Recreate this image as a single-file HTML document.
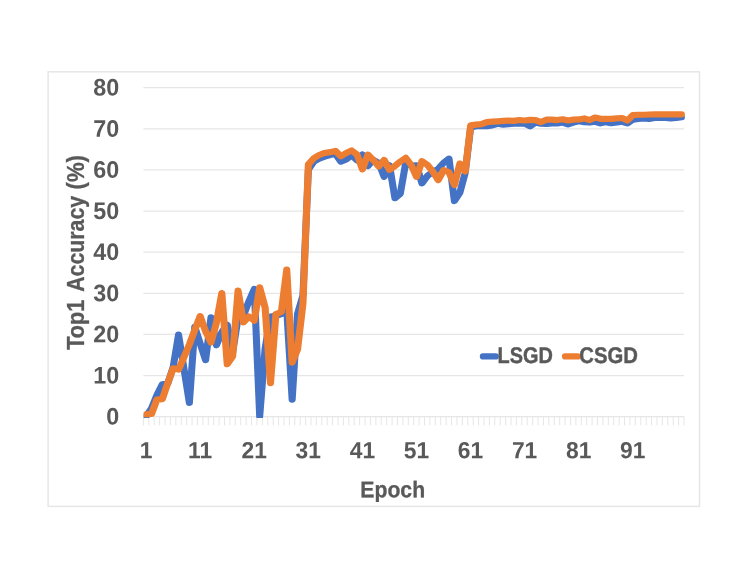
<!DOCTYPE html><html><head><meta charset="utf-8"><title>Top1 Accuracy</title><style>html,body{margin:0;padding:0;background:#fff}svg{display:block}text{font-family:"Liberation Sans",sans-serif;font-weight:bold;fill:#595959}</style></head><body>
<svg width="747" height="578" viewBox="0 0 747 578">
<rect width="747" height="578" fill="#fff"/>
<rect x="48.1" y="71.8" width="651.4" height="434.6" fill="#fff" stroke="#e6e6e6" stroke-width="1.5"/>
<line x1="143.4" y1="416.70" x2="684.0" y2="416.70" stroke="#e6e6e6" stroke-width="1.25"/>
<line x1="143.4" y1="375.57" x2="684.0" y2="375.57" stroke="#e6e6e6" stroke-width="1.25"/>
<line x1="143.4" y1="334.45" x2="684.0" y2="334.45" stroke="#e6e6e6" stroke-width="1.25"/>
<line x1="143.4" y1="293.32" x2="684.0" y2="293.32" stroke="#e6e6e6" stroke-width="1.25"/>
<line x1="143.4" y1="252.20" x2="684.0" y2="252.20" stroke="#e6e6e6" stroke-width="1.25"/>
<line x1="143.4" y1="211.07" x2="684.0" y2="211.07" stroke="#e6e6e6" stroke-width="1.25"/>
<line x1="143.4" y1="169.95" x2="684.0" y2="169.95" stroke="#e6e6e6" stroke-width="1.25"/>
<line x1="143.4" y1="128.82" x2="684.0" y2="128.82" stroke="#e6e6e6" stroke-width="1.25"/>
<line x1="143.4" y1="87.70" x2="684.0" y2="87.70" stroke="#e6e6e6" stroke-width="1.25"/>
<path d="M143.40 416.70V425.30M148.81 416.70V425.30M154.21 416.70V425.30M159.62 416.70V425.30M165.02 416.70V425.30M170.43 416.70V425.30M175.84 416.70V425.30M181.24 416.70V425.30M186.65 416.70V425.30M192.05 416.70V425.30M197.46 416.70V425.30M202.87 416.70V425.30M208.27 416.70V425.30M213.68 416.70V425.30M219.08 416.70V425.30M224.49 416.70V425.30M229.90 416.70V425.30M235.30 416.70V425.30M240.71 416.70V425.30M246.11 416.70V425.30M251.52 416.70V425.30M256.93 416.70V425.30M262.33 416.70V425.30M267.74 416.70V425.30M273.14 416.70V425.30M278.55 416.70V425.30M283.96 416.70V425.30M289.36 416.70V425.30M294.77 416.70V425.30M300.17 416.70V425.30M305.58 416.70V425.30M310.99 416.70V425.30M316.39 416.70V425.30M321.80 416.70V425.30M327.20 416.70V425.30M332.61 416.70V425.30M338.02 416.70V425.30M343.42 416.70V425.30M348.83 416.70V425.30M354.23 416.70V425.30M359.64 416.70V425.30M365.05 416.70V425.30M370.45 416.70V425.30M375.86 416.70V425.30M381.26 416.70V425.30M386.67 416.70V425.30M392.08 416.70V425.30M397.48 416.70V425.30M402.89 416.70V425.30M408.29 416.70V425.30M413.70 416.70V425.30M419.11 416.70V425.30M424.51 416.70V425.30M429.92 416.70V425.30M435.32 416.70V425.30M440.73 416.70V425.30M446.14 416.70V425.30M451.54 416.70V425.30M456.95 416.70V425.30M462.35 416.70V425.30M467.76 416.70V425.30M473.17 416.70V425.30M478.57 416.70V425.30M483.98 416.70V425.30M489.38 416.70V425.30M494.79 416.70V425.30M500.20 416.70V425.30M505.60 416.70V425.30M511.01 416.70V425.30M516.41 416.70V425.30M521.82 416.70V425.30M527.23 416.70V425.30M532.63 416.70V425.30M538.04 416.70V425.30M543.44 416.70V425.30M548.85 416.70V425.30M554.26 416.70V425.30M559.66 416.70V425.30M565.07 416.70V425.30M570.47 416.70V425.30M575.88 416.70V425.30M581.29 416.70V425.30M586.69 416.70V425.30M592.10 416.70V425.30M597.50 416.70V425.30M602.91 416.70V425.30M608.32 416.70V425.30M613.72 416.70V425.30M619.13 416.70V425.30M624.53 416.70V425.30M629.94 416.70V425.30M635.35 416.70V425.30M640.75 416.70V425.30M646.16 416.70V425.30M651.56 416.70V425.30M656.97 416.70V425.30M662.38 416.70V425.30M667.78 416.70V425.30M673.19 416.70V425.30M678.59 416.70V425.30M684.00 416.70V425.30" stroke="#e6e6e6" stroke-width="1" fill="none"/>
<text transform="translate(119.1 424.60) rotate(0.03) scale(0.975 1)" font-size="23.9" text-anchor="end">0</text>
<text transform="translate(119.1 383.47) rotate(0.03) scale(0.975 1)" font-size="23.9" text-anchor="end">10</text>
<text transform="translate(119.1 342.35) rotate(0.03) scale(0.975 1)" font-size="23.9" text-anchor="end">20</text>
<text transform="translate(119.1 301.22) rotate(0.03) scale(0.975 1)" font-size="23.9" text-anchor="end">30</text>
<text transform="translate(119.1 260.10) rotate(0.03) scale(0.975 1)" font-size="23.9" text-anchor="end">40</text>
<text transform="translate(119.1 218.97) rotate(0.03) scale(0.975 1)" font-size="23.9" text-anchor="end">50</text>
<text transform="translate(119.1 177.85) rotate(0.03) scale(0.975 1)" font-size="23.9" text-anchor="end">60</text>
<text transform="translate(119.1 136.72) rotate(0.03) scale(0.975 1)" font-size="23.9" text-anchor="end">70</text>
<text transform="translate(119.1 95.60) rotate(0.03) scale(0.975 1)" font-size="23.9" text-anchor="end">80</text>
<text transform="translate(146.0 458.2) rotate(0.03) scale(0.975 1)" font-size="23.4" text-anchor="middle">1</text>
<text transform="translate(200.1 458.2) rotate(0.03) scale(0.975 1)" font-size="23.4" text-anchor="middle">11</text>
<text transform="translate(254.2 458.2) rotate(0.03) scale(0.975 1)" font-size="23.4" text-anchor="middle">21</text>
<text transform="translate(308.3 458.2) rotate(0.03) scale(0.975 1)" font-size="23.4" text-anchor="middle">31</text>
<text transform="translate(362.4 458.2) rotate(0.03) scale(0.975 1)" font-size="23.4" text-anchor="middle">41</text>
<text transform="translate(416.5 458.2) rotate(0.03) scale(0.975 1)" font-size="23.4" text-anchor="middle">51</text>
<text transform="translate(470.5 458.2) rotate(0.03) scale(0.975 1)" font-size="23.4" text-anchor="middle">61</text>
<text transform="translate(524.6 458.2) rotate(0.03) scale(0.975 1)" font-size="23.4" text-anchor="middle">71</text>
<text transform="translate(578.7 458.2) rotate(0.03) scale(0.975 1)" font-size="23.4" text-anchor="middle">81</text>
<text transform="translate(632.8 458.2) rotate(0.03) scale(0.975 1)" font-size="23.4" text-anchor="middle">91</text>
<text transform="translate(360.3 497.2) rotate(0.03)" font-size="22.7" textLength="64.8" lengthAdjust="spacingAndGlyphs" stroke="#595959" stroke-width="0.3">Epoch</text>
<text transform="translate(83.7 349.8) rotate(-90)" font-size="23.5" textLength="50.1" lengthAdjust="spacingAndGlyphs" stroke="#595959" stroke-width="0.3">Top1</text>
<text transform="translate(83.7 291.8) rotate(-90)" font-size="23.5" textLength="96.0" lengthAdjust="spacingAndGlyphs" stroke="#595959" stroke-width="0.3">Accuracy</text>
<text transform="translate(83.7 189.5) rotate(-90)" font-size="23.5" textLength="34.5" lengthAdjust="spacingAndGlyphs" stroke="#595959" stroke-width="0.3">(%)</text>
<clipPath id="pc"><rect x="143.6" y="60" width="541.2" height="357.9"/></clipPath>
<g clip-path="url(#pc)">
<polyline transform="scale(1.14 1)" points="128.16,416.40 132.91,408.18 137.65,395.03 142.40,384.34 147.14,383.52 151.89,367.08 156.63,334.61 161.38,368.72 166.12,402.84 170.86,326.80 175.61,343.65 180.35,360.09 185.10,317.35 189.84,345.30 194.59,332.14 199.33,324.75 204.08,352.69 208.82,317.76 213.57,315.70 218.31,301.32 223.06,288.99 227.80,416.40 232.55,348.58 237.29,316.53 242.04,315.70 246.78,314.06 251.53,309.54 256.27,399.55 261.01,313.65 265.76,295.15 270.50,169.80 275.25,161.58 279.99,158.70 284.74,156.65 289.48,155.00 294.23,153.77 298.97,161.58 303.72,159.52 308.46,155.41 313.21,160.35 317.95,154.59 322.70,166.10 327.44,159.94 332.19,162.81 336.93,176.79 341.68,165.28 346.42,198.16 351.16,193.64 355.91,162.81 360.65,165.69 365.40,165.28 370.14,183.36 374.89,175.96 379.63,171.85 384.38,168.98 389.12,162.81 393.87,158.70 398.61,201.04 403.36,192.82 408.10,172.68 412.85,127.47 417.59,126.23 422.34,126.23 427.08,126.23 431.82,125.41 436.57,123.77 441.31,124.59 446.06,124.18 450.80,123.77 455.55,123.36 460.29,123.56 465.04,126.23 469.78,122.53 474.53,123.77 479.27,123.97 484.02,123.36 488.76,123.36 493.51,122.53 498.25,124.30 503.00,122.53 507.74,121.30 512.49,122.12 517.23,122.53 521.98,121.71 526.72,123.36 531.46,122.12 536.21,123.15 540.95,122.53 545.70,121.71 550.44,123.36 555.19,119.66 559.93,118.84 564.68,118.42 569.42,118.84 574.17,118.01 578.91,117.60 583.66,118.01 588.40,118.42 593.15,118.01 597.89,117.19" fill="none" stroke="#4472c4" stroke-width="6.2" stroke-linejoin="round" stroke-linecap="round"/>
<polyline transform="scale(1.14 1)" points="128.16,414.34 132.91,413.93 137.65,399.55 142.40,399.14 147.14,383.11 151.89,368.31 156.63,369.55 161.38,357.22 166.12,344.47 170.86,330.09 175.61,316.12 180.35,331.32 185.10,342.42 189.84,322.69 194.59,293.10 199.33,364.20 204.08,356.39 208.82,290.63 213.57,322.28 218.31,316.53 223.06,320.64 227.80,287.35 232.55,307.48 237.29,383.11 242.04,314.06 246.78,312.01 251.53,269.67 256.27,362.56 261.01,349.41 265.76,303.38 270.50,164.46 275.25,158.29 279.99,155.00 284.74,152.95 289.48,152.13 294.23,150.89 298.97,156.24 303.72,152.95 308.46,150.48 313.21,154.59 317.95,169.39 322.70,154.59 327.44,159.94 332.19,166.51 336.93,159.94 341.68,169.80 346.42,166.10 351.16,161.58 355.91,157.88 360.65,164.87 365.40,176.79 370.14,161.17 374.89,164.87 379.63,171.44 384.38,180.07 389.12,170.21 393.87,172.27 398.61,185.01 403.36,163.63 408.10,171.44 412.85,125.41 417.59,124.59 422.34,124.18 427.08,122.12 431.82,121.71 436.57,121.30 441.31,120.89 446.06,120.69 450.80,120.89 455.55,120.07 460.29,120.48 465.04,119.86 469.78,120.07 474.53,122.12 479.27,119.66 484.02,119.66 488.76,120.07 493.51,119.25 498.25,120.48 503.00,119.66 507.74,119.45 512.49,118.42 517.23,120.07 521.98,117.60 526.72,118.84 531.46,118.84 536.21,118.84 540.95,118.42 545.70,118.01 550.44,120.48 555.19,115.14 559.93,114.73 564.68,114.73 569.42,114.52 574.17,114.31 578.91,114.31 583.66,114.31 588.40,114.31 593.15,114.31 597.89,114.31" fill="none" stroke="#ed7d31" stroke-width="6.2" stroke-linejoin="round" stroke-linecap="round"/>
</g>
<line x1="482.9" y1="356.45" x2="495.8" y2="356.45" stroke="#4472c4" stroke-width="6.2" stroke-linecap="round"/>
<text transform="translate(497.6 363.3) rotate(0.03)" font-size="22.6" stroke="#595959" stroke-width="0.4" textLength="55.3" lengthAdjust="spacingAndGlyphs">LSGD</text>
<line x1="565" y1="356.45" x2="577.8" y2="356.45" stroke="#ed7d31" stroke-width="6.2" stroke-linecap="round"/>
<text transform="translate(579.3 363.3) rotate(0.03)" font-size="22.6" stroke="#595959" stroke-width="0.4" textLength="58.6" lengthAdjust="spacingAndGlyphs">CSGD</text>
</svg></body></html>
